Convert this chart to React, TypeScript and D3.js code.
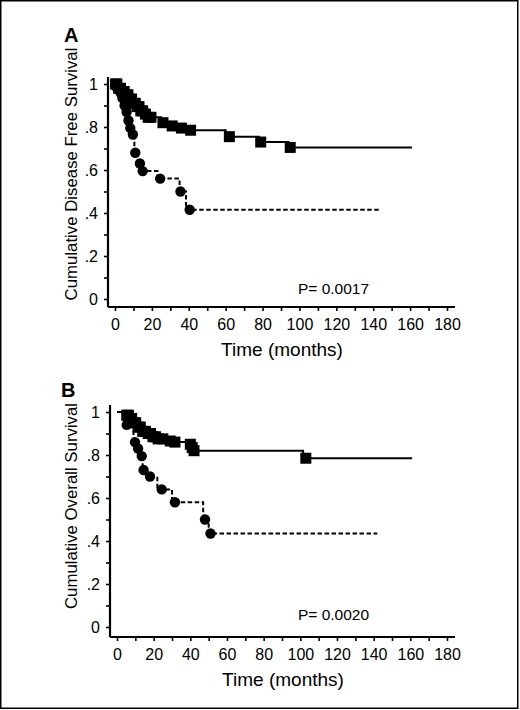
import React, { useEffect, useRef } from 'react'
import * as d3 from 'd3'

// time axis / survival axis
const timeTicks = d3.range(0, 181, 10)
const survTicks = d3.range(0, 1.001, 0.1).map(v => Math.round(v * 10) / 10)
const survLabels: Record<string, string> = { '0': '0', '0.2': '.2', '0.4': '.4', '0.6': '.6', '0.8': '.8', '1': '1' }

// Panel A - disease free survival
const dfsSolidTimes = [0, 2, 4, 6, 8, 10, 12, 14, 16, 17, 25, 30, 35, 40, 60, 78, 94]
const dfsSolidSurv = [1, 0.98, 0.965, 0.95, 0.93, 0.91, 0.895, 0.875, 0.86, 0.845, 0.82, 0.805, 0.795, 0.785, 0.755, 0.73, 0.705]
const dfsSolidEnd = 161
const dfsSolidMarks = [0.3, 1, 2, 3, 4, 5, 6, 7, 8, 9, 10, 11, 12, 13, 14, 15, 16.5, 18, 19.5, 26, 31, 36, 41, 62, 79, 95]

const dfsDashTimes = [0, 1, 2.5, 3.5, 5, 6, 7, 8, 9.5, 10.5, 12.5, 14.5, 23, 35, 38.5]
const dfsDashSurv = [1, 0.98, 0.96, 0.935, 0.9, 0.87, 0.83, 0.795, 0.765, 0.68, 0.63, 0.595, 0.56, 0.5, 0.415]
const dfsDashEnd = 144
const dfsDashMarks = [0.3, 1.2, 2, 3, 4, 5.2, 6.3, 7.3, 8.3, 9.7, 11, 13.5, 15, 24.5, 35.5, 40.5]

// Panel B - overall survival
const osSolidTimes = [0, 5, 7, 8.5, 11, 13.5, 16.5, 19, 22, 28, 31, 39, 40.5, 41.5, 101.5]
const osSolidSurv = [1, 0.985, 0.97, 0.95, 0.93, 0.91, 0.9, 0.885, 0.875, 0.865, 0.86, 0.85, 0.835, 0.82, 0.785]
const osSolidEnd = 161
const osSolidMarks = [5.3, 6.2, 7, 8, 9, 10.2, 11.5, 12.7, 14, 15.5, 17, 18.3, 19.6, 21, 22.4, 25, 29, 31.6, 40, 41, 42, 103]

const osDashTimes = [0, 5, 9, 11, 13, 14, 17, 22, 30, 47, 50]
const osDashSurv = [1, 0.94, 0.86, 0.83, 0.795, 0.73, 0.7, 0.64, 0.58, 0.5, 0.435]
const osDashEnd = 142
const osDashMarks = [5.3, 9.8, 11.5, 13.5, 14.5, 18, 24.4, 31.6, 48, 51]

const FONT = "'Liberation Sans', Arial, Helvetica, sans-serif"

type Curve = { times: number[], surv: number[], end: number, marks: number[], dashed: boolean, marker: 'square' | 'circle' }

const panels = [
  {
    letter: 'A', letterX: 64, letterY: 42,
    yTitle: 'Cumulative Disease Free Survival', yTitleY: 174,
    pText: 'P= 0.0017', pY: 294,
    xRange: [115, 447], yRange: [299, 84], axisY: 307, axisTop: 77,
    curves: [
      { times: dfsSolidTimes, surv: dfsSolidSurv, end: dfsSolidEnd, marks: dfsSolidMarks, dashed: false, marker: 'square' },
      { times: dfsDashTimes, surv: dfsDashSurv, end: dfsDashEnd, marks: dfsDashMarks, dashed: true, marker: 'circle' },
    ] as Curve[],
  },
  {
    letter: 'B', letterX: 61, letterY: 397,
    yTitle: 'Cumulative Overall Survival', yTitleY: 506,
    pText: 'P= 0.0020', pY: 620,
    xRange: [117, 447], yRange: [627, 412], axisY: 637, axisTop: 405,
    curves: [
      { times: osSolidTimes, surv: osSolidSurv, end: osSolidEnd, marks: osSolidMarks, dashed: false, marker: 'square' },
      { times: osDashTimes, surv: osDashSurv, end: osDashEnd, marks: osDashMarks, dashed: true, marker: 'circle' },
    ] as Curve[],
  },
]

function survAt(c: Curve, t: number) {
  let s = c.surv[0]
  c.times.forEach((tt, i) => { if (tt <= t) s = c.surv[i] })
  return s
}

export default function App() {
  const ref = useRef<SVGSVGElement>(null)

  useEffect(() => {
    const svg = d3.select(ref.current)
    svg.selectAll('*').remove()

    svg.append('rect')
      .attr('x', 0.75).attr('y', 0.75).attr('width', 517).attr('height', 707.5)
      .attr('fill', 'white').attr('stroke', '#000').attr('stroke-width', 1.5)

    panels.forEach(p => {
      const x = d3.scaleLinear().domain([0, 180]).range(p.xRange)
      const y = d3.scaleLinear().domain([0, 1]).range(p.yRange)
      const g = svg.append('g')
      const axisLeftX = x(0) - 7

      // x axis
      const xAxis = d3.axisBottom(x).tickValues(timeTicks)
        .tickFormat(d => (+d % 20 === 0 ? String(d) : ''))
        .tickSize(4).tickSizeOuter(0).tickPadding(8)
      const gx = g.append('g').attr('transform', `translate(0,${p.axisY})`).call(xAxis)
      gx.select('.domain').remove()
      gx.selectAll('line').attr('stroke', '#000').attr('stroke-width', 1.6)
      gx.selectAll('text').attr('font-size', 16).attr('font-family', FONT).attr('fill', '#000')
      g.append('line').attr('x1', axisLeftX).attr('x2', x(180) + 8)
        .attr('y1', p.axisY).attr('y2', p.axisY).attr('stroke', '#000').attr('stroke-width', 2.2)

      // y axis
      const yAxis = d3.axisLeft(y).tickValues(survTicks)
        .tickFormat(d => survLabels[String(d)] ?? '')
        .tickSize(4).tickSizeOuter(0).tickPadding(6)
      const gy = g.append('g').attr('transform', `translate(${axisLeftX},0)`).call(yAxis)
      gy.select('.domain').remove()
      gy.selectAll('line').attr('stroke', '#000').attr('stroke-width', 1.6)
      gy.selectAll('text').attr('font-size', 16).attr('font-family', FONT).attr('fill', '#000')
      g.append('line').attr('x1', axisLeftX).attr('x2', axisLeftX)
        .attr('y1', p.axisTop).attr('y2', p.axisY).attr('stroke', '#000').attr('stroke-width', 2.2)

      // titles
      g.append('text').attr('x', (x(0) + x(180)) / 2 + 1).attr('y', p.axisY + 49)
        .attr('text-anchor', 'middle').attr('font-size', 19).attr('font-family', FONT)
        .text('Time (months)')
      g.append('text').attr('transform', `translate(77,${p.yTitleY}) rotate(-90)`)
        .attr('text-anchor', 'middle').attr('font-size', 16.8).attr('font-family', FONT)
        .text(p.yTitle)
      g.append('text').attr('x', p.letterX).attr('y', p.letterY)
        .attr('font-size', 20).attr('font-weight', 'bold').attr('font-family', FONT)
        .text(p.letter)
      g.append('text').attr('x', 298).attr('y', p.pY)
        .attr('font-size', 15.5).attr('font-family', FONT)
        .attr('textLength', 71).attr('lengthAdjust', 'spacing')
        .text(p.pText)

      // curves
      const line = d3.line<[number, number]>().x(d => x(d[0])).y(d => y(d[1])).curve(d3.curveStepAfter)
      p.curves.forEach(c => {
        const pts: [number, number][] = c.times.map((t, i) => [t, c.surv[i]])
        pts.push([c.end, c.surv[c.surv.length - 1]])
        g.append('path').attr('d', line(pts)).attr('fill', 'none')
          .attr('stroke', '#000').attr('stroke-width', 2)
          .attr('stroke-dasharray', c.dashed ? '4.5,2.5' : null)
        c.marks.forEach(t => {
          const cx = x(t), cy = y(survAt(c, t))
          if (c.marker === 'square') {
            g.append('rect').attr('x', cx - 5.5).attr('y', cy - 5.5).attr('width', 11).attr('height', 11).attr('fill', '#000')
          } else {
            g.append('circle').attr('cx', cx).attr('cy', cy).attr('r', 5.2).attr('fill', '#000')
          }
        })
      })
    })
  }, [])

  return (
    <svg ref={ref} width={520} height={710}
      style={{ position: 'absolute', left: 0, top: 0, background: '#fff' }} />
  )
}
